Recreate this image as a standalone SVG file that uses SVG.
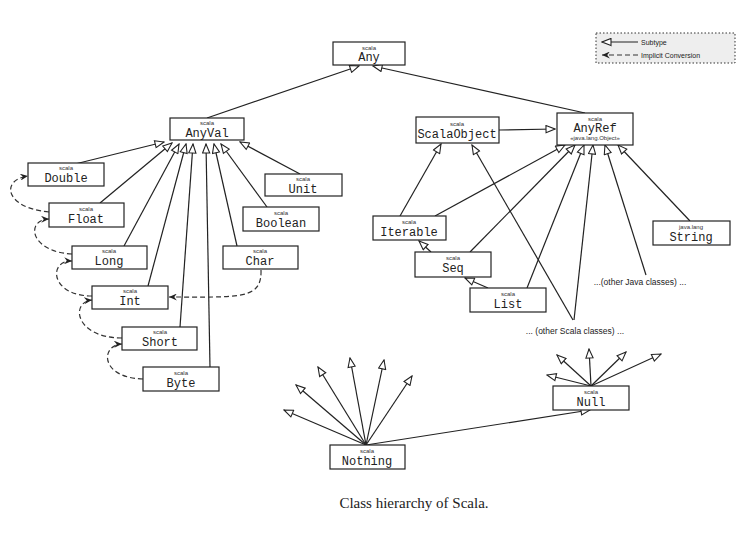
<svg xmlns="http://www.w3.org/2000/svg" width="743" height="541" viewBox="0 0 743 541">
<style>
.box{fill:#fff;stroke:#222;stroke-width:1.2}
.pk{font-family:"Liberation Sans",sans-serif;font-size:6px;fill:#333;text-anchor:middle}
.nm{font-family:"Liberation Mono",monospace;font-size:12px;fill:#222;text-anchor:middle}
.e{fill:none;stroke:#222;stroke-width:1.2;marker-end:url(#tri)}
.d{fill:none;stroke:#333;stroke-width:1.2;stroke-dasharray:5,3;marker-end:url(#barb)}
.lb{font-family:"Liberation Sans",sans-serif;font-size:8.5px;fill:#222;text-anchor:middle}
</style>
<defs>
<marker id="tri" viewBox="0 0 12 10" refX="11" refY="5" markerWidth="11" markerHeight="9" markerUnits="userSpaceOnUse" orient="auto"><path d="M1,1 L11,5 L1,9 Z" fill="#fff" stroke="#222" stroke-width="1.2"/></marker>
<marker id="barb" viewBox="0 0 10 8" refX="9" refY="4" markerWidth="9" markerHeight="7" markerUnits="userSpaceOnUse" orient="auto"><path d="M0,0 L9,4 L0,8 L3,4 Z" fill="#222"/></marker>
</defs>
<rect width="743" height="541" fill="#fff"/>
<g id="legend"><rect x="596" y="33" width="139" height="30" fill="#eee" stroke="#333" stroke-dasharray="1.5,2"/>
<line x1="638" y1="42" x2="602" y2="42" class="e"/><line x1="638" y1="55" x2="602" y2="55" class="d"/>
<text x="641" y="45" font-family="Liberation Sans,sans-serif" font-size="7" fill="#222">Subtype</text>
<text x="641" y="58" font-family="Liberation Sans,sans-serif" font-size="7" fill="#222">Implicit Conversion</text></g>
<g id="connectors">
<line x1="207" y1="118" x2="359" y2="66" class="e"/>
<line x1="585" y1="113" x2="373" y2="66" class="e"/>
<line x1="75" y1="164" x2="164" y2="142" class="e"/>
<line x1="100" y1="203" x2="172" y2="143" class="e"/>
<line x1="124" y1="246" x2="179" y2="144" class="e"/>
<line x1="148" y1="286" x2="186" y2="144" class="e"/>
<line x1="180" y1="327" x2="193" y2="144" class="e"/>
<line x1="210" y1="367" x2="206" y2="144" class="e"/>
<line x1="237" y1="246" x2="214" y2="144" class="e"/>
<line x1="267" y1="207" x2="221" y2="144" class="e"/>
<line x1="300" y1="174" x2="240" y2="142" class="e"/>
<path d="M49,212 C5,208 0,180 28,176" class="d"/>
<path d="M72,254 C30,252 25,220 49,219" class="d"/>
<path d="M92,296 C50,296 48,260 72,261" class="d"/>
<path d="M122,338 C75,338 70,302 92,300" class="d"/>
<path d="M143,379 C100,378 100,345 122,344" class="d"/>
<path d="M261,270 C262,300 240,297 169,297" class="d"/>
<line x1="499" y1="130" x2="555" y2="129" class="e"/>
<line x1="400" y1="216" x2="441" y2="144" class="e"/>
<line x1="435" y1="216" x2="565" y2="145" class="e"/>
<line x1="431" y1="252" x2="419" y2="241" class="e"/>
<line x1="470" y1="252" x2="575" y2="145" class="e"/>
<line x1="488" y1="288" x2="465" y2="278" class="e"/>
<line x1="527" y1="288" x2="584" y2="145" class="e"/>
<line x1="573" y1="320" x2="472" y2="145" class="e"/>
<line x1="574" y1="320" x2="593" y2="145" class="e"/>
<line x1="646" y1="275" x2="605" y2="145" class="e"/>
<line x1="690" y1="221" x2="618" y2="145" class="e"/>
<line x1="591" y1="386" x2="547" y2="375" class="e"/>
<line x1="591" y1="386" x2="557" y2="355" class="e"/>
<line x1="591" y1="386" x2="589" y2="349" class="e"/>
<line x1="591" y1="386" x2="626" y2="352" class="e"/>
<line x1="591" y1="386" x2="661" y2="354" class="e"/>
<line x1="366" y1="445" x2="284" y2="410" class="e"/>
<line x1="366" y1="445" x2="296" y2="385" class="e"/>
<line x1="366" y1="445" x2="318" y2="367" class="e"/>
<line x1="366" y1="445" x2="350" y2="358" class="e"/>
<line x1="366" y1="445" x2="384" y2="360" class="e"/>
<line x1="366" y1="445" x2="412" y2="376" class="e"/>
<line x1="366" y1="445" x2="590" y2="410" class="e"/>
</g>
<g id="Any"><rect class="box" x="333" y="42" width="72" height="23"/><text class="pk" x="369" y="50">scala</text><text class="nm" x="369" y="61">Any</text></g>
<g id="AnyVal"><rect class="box" x="170" y="118" width="74" height="22"/><text class="pk" x="207" y="125">scala</text><text class="nm" x="207" y="137">AnyVal</text></g>
<g id="Double"><rect class="box" x="28" y="163" width="76" height="23"/><text class="pk" x="66" y="170">scala</text><text class="nm" x="66" y="182">Double</text></g>
<g id="Float"><rect class="box" x="49" y="203" width="75" height="24"/><text class="pk" x="86" y="211">scala</text><text class="nm" x="86" y="223">Float</text></g>
<g id="Long"><rect class="box" x="72" y="246" width="75" height="23"/><text class="pk" x="109" y="253">scala</text><text class="nm" x="109" y="265">Long</text></g>
<g id="Int"><rect class="box" x="92" y="286" width="76" height="23" stroke-width="2.2"/><text class="pk" x="130" y="293">scala</text><text class="nm" x="130" y="305">Int</text></g>
<g id="Short"><rect class="box" x="122" y="327" width="75" height="23"/><text class="pk" x="160" y="334">scala</text><text class="nm" x="160" y="346">Short</text></g>
<g id="Byte"><rect class="box" x="143" y="367" width="76" height="24"/><text class="pk" x="181" y="375">scala</text><text class="nm" x="181" y="387">Byte</text></g>
<g id="Char"><rect class="box" x="223" y="246" width="75" height="23"/><text class="pk" x="260" y="253">scala</text><text class="nm" x="260" y="265">Char</text></g>
<g id="Boolean"><rect class="box" x="243" y="207" width="76" height="24"/><text class="pk" x="281" y="215">scala</text><text class="nm" x="281" y="227">Boolean</text></g>
<g id="Unit"><rect class="box" x="265" y="174" width="77" height="22"/><text class="pk" x="303" y="181">scala</text><text class="nm" x="303" y="193">Unit</text></g>
<g id="ScalaObject"><rect class="box" x="416" y="117" width="83" height="26"/><text class="pk" x="457" y="126">scala</text><text class="nm" x="457" y="138">ScalaObject</text></g>
<g id="AnyRef"><rect class="box" x="557" y="113" width="76" height="32"/><text class="pk" x="595" y="121">scala</text><text class="nm" x="595" y="132">AnyRef</text><text class="pk" x="595" y="140">«java.lang.Object»</text></g>
<g id="Iterable"><rect class="box" x="373" y="216" width="73" height="24"/><text class="pk" x="409" y="224">scala</text><text class="nm" x="409" y="236">Iterable</text></g>
<g id="Seq"><rect class="box" x="415" y="252" width="76" height="25"/><text class="pk" x="453" y="260">scala</text><text class="nm" x="453" y="272">Seq</text></g>
<g id="List"><rect class="box" x="470" y="288" width="76" height="24"/><text class="pk" x="508" y="296">scala</text><text class="nm" x="508" y="308">List</text></g>
<g id="String"><rect class="box" x="653" y="221" width="77" height="24"/><text class="pk" x="691" y="229">java.lang</text><text class="nm" x="691" y="241">String</text></g>
<g id="otherJava"><text class="lb" x="640" y="285">...(other Java classes) ...</text></g>
<g id="otherScala"><text class="lb" x="575" y="334">... (other Scala classes) ...</text></g>
<g id="Null"><rect class="box" x="553" y="386" width="76" height="24"/><text class="pk" x="591" y="394">scala</text><text class="nm" x="591" y="406">Null</text></g>
<g id="Nothing"><rect class="box" x="330" y="445" width="75" height="24"/><text class="pk" x="367" y="453">scala</text><text class="nm" x="367" y="465">Nothing</text></g>
<text x="414" y="508" font-family="Liberation Serif,serif" font-size="15" fill="#222" text-anchor="middle">Class hierarchy of Scala.</text>
</svg>
